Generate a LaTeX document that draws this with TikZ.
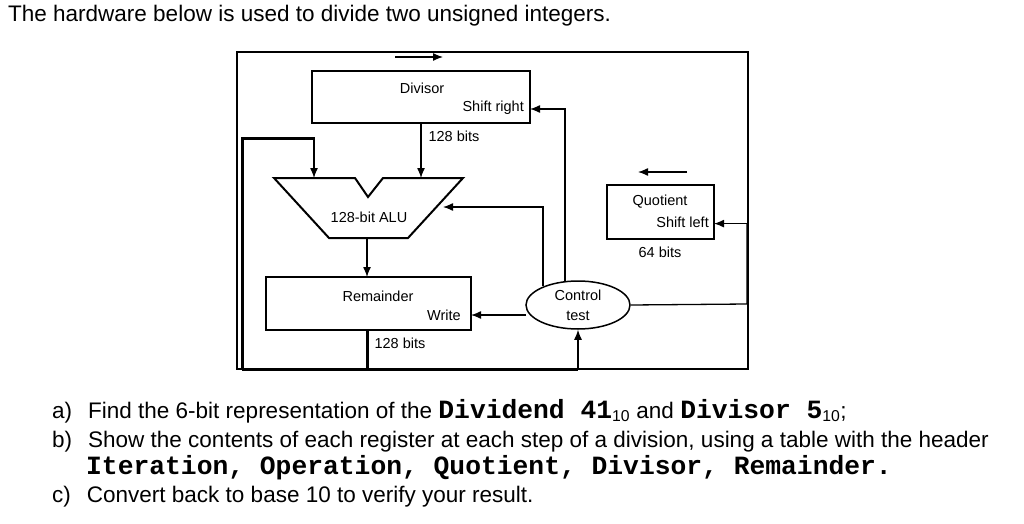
\documentclass[tikz,border=0pt]{standalone}
\usepackage{fontspec}
\setmainfont{Liberation Sans}
\newfontfamily\mono{Liberation Mono}[Scale=1.17]
\usetikzlibrary{arrows.meta,shapes.geometric}
\begin{document}
\begin{tikzpicture}[x=1pt,y=-1pt,
  arr/.style={-{Latex[length=10pt,width=8pt]},line width=1.3pt},
  reg/.style={draw,line width=2pt},
  lbl/.style={font=\fontsize{14.5}{16}\selectfont,inner sep=0pt},
  txt/.style={font=\fontsize{22.5}{25}\selectfont,anchor=base west,inner sep=0pt}]
\useasboundingbox (0,0) rectangle (1024,524);
\node[txt] (title) at (8,22) {The hardware below is used to divide two unsigned integers.};
% frame
\draw[line width=1.5pt] (237,52) rectangle (748,369);
% divisor
\draw[reg] (312,71) rectangle (530,123);
\node[lbl] (divl) at (422,88) {Divisor};
\node[lbl,anchor=east] (sr) at (524,108) {Shift right};
\draw[arr] (395,57) -- (443,57);
% ALU
\draw[reg] (274,178) -- (355,178) -- (368,197) -- (383,178) -- (463,178) -- (408,238) -- (329,238) -- cycle;
\node[lbl] (alul) at (369,217) {128-bit ALU};
\coordinate (alutl) at (314,178);
\coordinate (alutr) at (421,178);
\coordinate (alur) at (443,207);
\draw[arr] (421,123) -- (alutr);
\node[lbl] (b1) at (454,136) {128 bits};
\draw[line width=3pt] (242,369) -- (242,138) -- (314,138);
\draw[arr] (314,137) -- (alutl);
% remainder
\draw[reg] (266,277) rectangle (471,330);
\node[lbl] (reml) at (378,296) {Remainder};
\node[lbl] (wr) at (444,315) {Write};
\draw[arr] (367,238) -- (367,277);
\node[lbl] (b2) at (400,343) {128 bits};
\draw[line width=3pt] (367,330) -- (367,369) -- (242,369);
\draw[line width=3pt] (367,369) -- (578,369);
% control
\node[draw,ellipse,line width=1.5pt,minimum width=104pt,minimum height=48pt,lbl,align=center] (ctl) at (578,305) {Control\\[4pt]test};
\draw[arr] (578,369) -- (ctl.south);
\draw[arr] (526,315) -- (471,315);
\draw[arr] (543,286) -- (543,207) -- (alur);
\draw[arr] (565,282) -- (565,109) -- (530,109);
% quotient
\draw[reg] (607,185) rectangle (714,239);
\node[lbl] (ql) at (660,202) {Quotient};
\node[lbl,anchor=east] (sl) at (709,222) {Shift left};
\node[lbl] (b3) at (660,252) {64 bits};
\draw[arr] (687,172) -- (638,172);
\draw[line width=1.3pt] (ctl.east) -- (747,304) -- (747,223);
\draw[arr] (747,223.6) -- (714,223.6);
% questions
\node[txt] (qa) at (52,418) {a)\hspace{16pt}Find the 6-bit representation of the {\mono\bfseries Dividend 41}\textsubscript{10} and {\mono\bfseries Divisor 5}\textsubscript{10};};
\node[txt] (qb) at (52,447) {b)\hspace{16pt}Show the contents of each register at each step of a division, using a table with the header};
\node[txt] (qb2) at (86,474) {\mono\bfseries Iteration, Operation, Quotient, Divisor, Remainder.};
\node[txt] (qc) at (52,502) {c)\hspace{16pt}Convert back to base 10 to verify your result.};
\end{tikzpicture}
\end{document}
